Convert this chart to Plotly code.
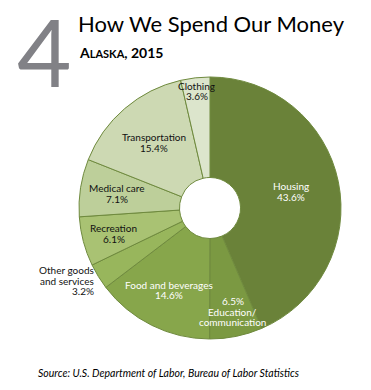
import math
import plotly.graph_objects as go

# ---- data ----
categories = ["Housing", "Education/ communication", "Food and beverages",
              "Other goods and services", "Recreation", "Medical care",
              "Transportation", "Clothing"]
shares = [43.6, 6.5, 14.6, 3.2, 6.1, 7.1, 15.4, 3.6]
pct_labels = ["43.6%", "6.5%", "14.6%", "3.2%", "6.1%", "7.1%", "15.4%", "3.6%"]

# ---- style ----
W, H = 371, 390
colors = ["#6a8239", "#7b9942", "#87a64b", "#98b65c", "#a9c273",
          "#bdcf9a", "#cdd9b3", "#dce5cc"]
text_colors = ["white", "white", "white", "#111", "#111", "#111", "#111", "#111"]
label_lines = [
    [categories[0], pct_labels[0]],
    [pct_labels[1], "Education/", "communication"],
    [categories[2], pct_labels[2]],
    ["Other goods", "and services", pct_labels[3]],
    [categories[4], pct_labels[4]],
    [categories[5], pct_labels[5]],
    [categories[6], pct_labels[6]],
    [categories[7], pct_labels[7]],
]
radial = [0.63, 0.81, 0.70, 1.03, 0.76, 0.72, 0.66, 0.90]
dtheta = [0, -1, 0, -1, 0, 0, 0, 0]
anchor = ["center"] * 8
anchor[3] = "right"

cx, cy, R = 210, 208, 131
font_family = "Lato, 'Open Sans', sans-serif"

fig = go.Figure(go.Pie(
    labels=categories, values=shares, sort=False, direction="clockwise",
    rotation=0, hole=0.233, textinfo="none", hoverinfo="label+percent",
    marker=dict(colors=colors, line=dict(color="#6f8a3e", width=1)),
    domain=dict(x=[(cx - R) / W, (cx + R) / W], y=[1 - (cy + R) / H, 1 - (cy - R) / H]),
    showlegend=False,
))

annotations = []
total = sum(shares)
cum = 0.0
line_h = 10.5
for i, v in enumerate(shares):
    mid = (cum + v / 2) / total * 360 + dtheta[i]
    cum += v
    th = math.radians(mid)
    px = cx + radial[i] * R * math.sin(th)
    py = cy - radial[i] * R * math.cos(th)
    lines = label_lines[i]
    n = len(lines)
    for j, t in enumerate(lines):
        off = ((n - 1) / 2 - j) * line_h
        annotations.append(dict(
            x=px / W, y=1 - py / H, xref="paper", yref="paper", text=t,
            showarrow=False, xanchor=anchor[i], yanchor="middle", yshift=off,
            font=dict(family=font_family, size=10, color=text_colors[i])))

# title block
annotations += [
    dict(x=15 / W, y=1 - 51 / H, xref="paper", yref="paper", text="4", showarrow=False,
         xanchor="left", yanchor="middle",
         font=dict(family=font_family, size=94, color="#818186")),
    dict(x=76 / W, y=1 - 23 / H, xref="paper", yref="paper",
         text="How We Spend Our Money", showarrow=False, xanchor="left", yanchor="middle",
         font=dict(family=font_family, size=22, color="black")),
    dict(x=77 / W, y=1 - 53 / H, xref="paper", yref="paper",
         text="<b>A<span style='font-size:11px'>LASKA</span>, 2015</b>", showarrow=False,
         xanchor="left", yanchor="middle",
         font=dict(family=font_family, size=14, color="black")),
    dict(x=36 / W, y=1 - 373 / H, xref="paper", yref="paper",
         text="<i>Source: U.S. Department of Labor, Bureau of Labor Statistics</i>",
         showarrow=False, xanchor="left", yanchor="middle",
         font=dict(family=font_family, size=10.5, color="black")),
]

fig.update_layout(width=W, height=H, margin=dict(l=0, r=0, t=0, b=0),
                  paper_bgcolor="white", plot_bgcolor="white",
                  annotations=annotations)
fig.write_html("out.html", config={"displayModeBar": False},
               post_script="document.body.style.margin='0';document.body.style.overflow='hidden';")
